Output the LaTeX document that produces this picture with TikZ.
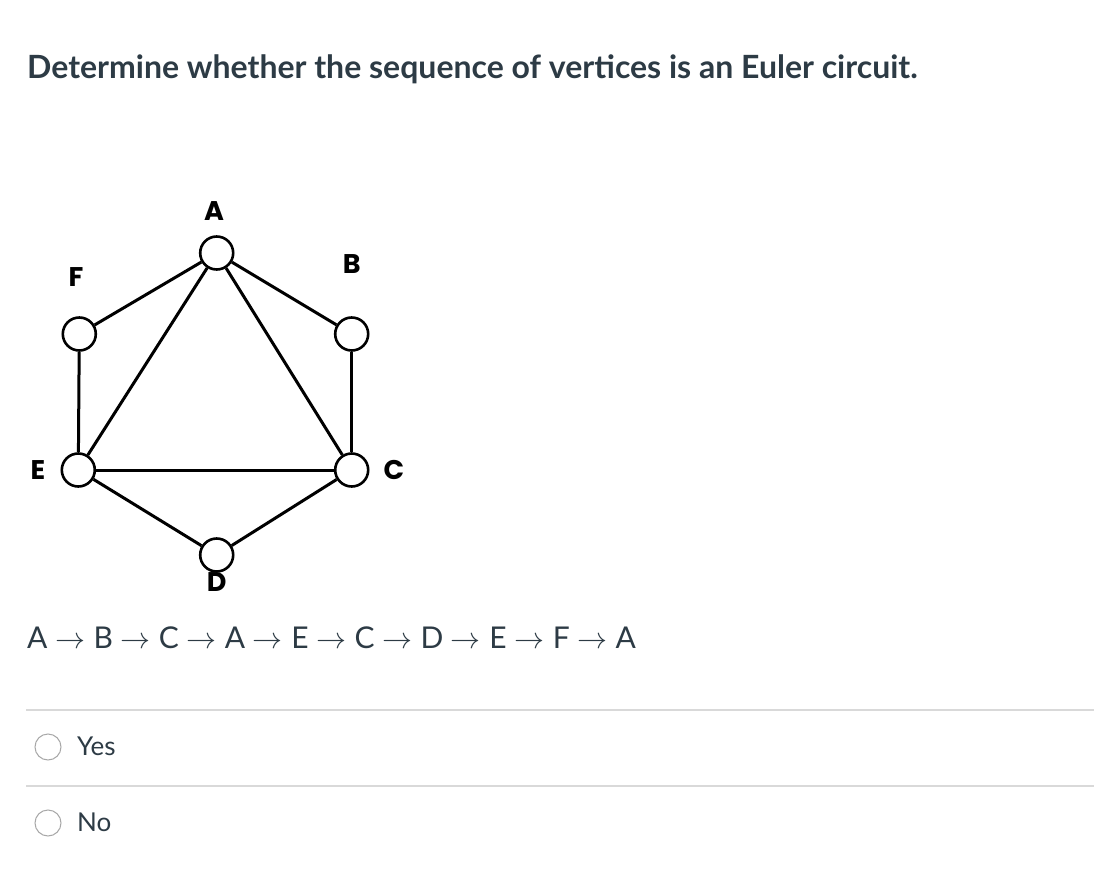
\documentclass[tikz,border=0pt]{standalone}
\usepackage{fontspec}
\usepackage{graphicx}
\setmainfont{Lato}
\newfontfamily\gfont{Poppins}
\definecolor{txt}{HTML}{2D3B45}
\definecolor{rule}{HTML}{D9D9D9}
\definecolor{radio}{HTML}{A8A8A8}
\newcommand{\sarr}{\hspace{7.5pt}\resizebox{30pt}{!}{$\rightarrow$}\hspace{8.5pt}}
\begin{document}
\begin{tikzpicture}[x=1pt,y=-1pt,
  vtx/.style={circle,draw=black,line width=2.6pt,minimum size=33pt,inner sep=0pt,fill=white},
  edge/.style={line width=3pt},
  glabel/.style={font=\gfont\fontsize{27}{27}\selectfont,inner sep=0pt},
  radiob/.style={circle,draw=radio,line width=1pt,minimum size=26pt,inner sep=0pt},
  rulel/.style={draw=rule,line width=1.6pt}]
\useasboundingbox (0,0) rectangle (1120,894);
\fill[white] (0,0) rectangle (1120,894);
\node[anchor=base west,inner sep=0pt,text=txt,font=\bfseries\fontsize{32}{32}\selectfont] (title) at (27,78) {Determine whether the sequence of vertices is an Euler circuit.};
% graph
\node[vtx] (A) at (216.7,253) {};
\node[vtx] (F) at (79.3,334) {};
\node[vtx] (B) at (351.7,334) {};
\node[vtx] (E) at (78.3,470) {};
\node[vtx] (C) at (351.7,470) {};
\node[vtx] (D) at (216.7,555) {};
\draw[edge] (A) -- (F);
\draw[edge] (A) -- (B);
\draw[edge] (A) -- (E);
\draw[edge] (A) -- (C);
\draw[edge] (F) -- (E);
\draw[edge] (B) -- (C);
\draw[edge] (E) -- (C);
\draw[edge] (E) -- (D);
\draw[edge] (D) -- (C);
\node[glabel] (lA) at (214,211) {\textbf{A}};
\node[glabel] (lF) at (76,277) {\textbf{F}};
\node[glabel] (lB) at (351.7,264) {\textbf{B}};
\node[glabel] (lE) at (38,470) {\textbf{E}};
\node[glabel] (lC) at (394,470) {\textbf{C}};
\node[glabel] (lD) at (216.7,582) {\textbf{D}};
% sequence
\node[anchor=base west,inner sep=0pt,text=txt,font=\fontsize{30}{30}\selectfont] (seq) at (27,648) {A\sarr B\sarr C\sarr A\sarr E\sarr C\sarr D\sarr E\sarr F\sarr A};
% options
\coordinate (r1a) at (26,710); \coordinate (r1b) at (1094,710);
\coordinate (r2a) at (26,786); \coordinate (r2b) at (1094,786);
\draw[rulel] (r1a) -- (r1b);
\draw[rulel] (r2a) -- (r2b);
\node[radiob] (o1) at (48,747) {};
\node[radiob] (o2) at (48,823) {};
\node[anchor=base west,inner sep=0pt,text=txt,font=\fontsize{26}{26}\selectfont] (yes) at (77,755) {Yes};
\node[anchor=base west,inner sep=0pt,text=txt,font=\fontsize{26}{26}\selectfont] (no) at (77,831) {No};
\end{tikzpicture}
\end{document}
